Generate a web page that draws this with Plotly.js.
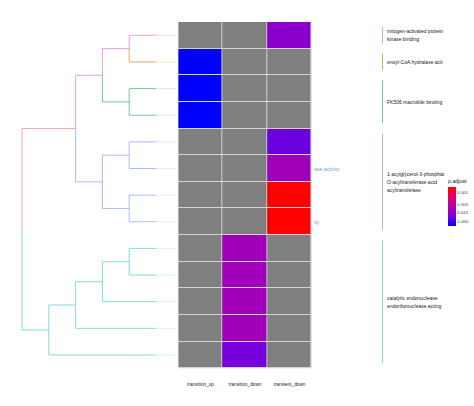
<!DOCTYPE html>
<html><head><meta charset="utf-8">
<script src="https://cdn.plot.ly/plotly-3.0.1.min.js"></script>
<style>html,body{margin:0;padding:0;background:#fff}</style>
</head><body><div id="chart" style="width:474px;height:406px"></div>
<script>
// ---- data ----
const columns = ["transition_up", "transition_down", "transient_down"];
const rowIds = [1, 2, 3, 4, 5, 6, 7, 8, 9, 10, 11, 12, 13];
const pTransitionUp   = [null, 0.098, 0.098, 0.098, null, null, null, null, null, null, null, null, null];
const pTransitionDown = [null, null, null, null, null, null, null, null, 0.0102, 0.0102, 0.0102, 0.0102, 0.026];
const pTransientDown  = [0.0166, null, null, null, 0.030, 0.0102, 0.00045, 0.00045, null, null, null, null, null];

const leafGroups = ["c1", "c2", "c3", "c3", "c4", "c4", "c4", "c4", "c5", "c5", "c5", "c5", "c5"];
// merge children: positive = leaf (row id), negative = earlier merge (1-based)
const mergeLeft   = [1, 3, -1, 5, 7, -4, -3, 9, -8, -9, -10, -7];
const mergeRight  = [2, 4, -2, 6, 8, -5, -6, 10, 11, 12, 13, -11];
const mergeHeight = [1, 1, 2, 1, 1, 2, 3, 1, 2, 3, 4, 5];
const mergeGroups = ["c1", "c3", "c1", "c4", "c4", "c4", "c0", "c5", "c5", "c5", "c5", "c0"];
const groupColors = {c0: "#F2A9A9", c1: "#E89DE4", c2: "#D5AE5E", c3: "#74CB8D", c4: "#AABBF0", c5: "#86D9DC"};

const clusterRows = [[1], [2], [3, 4], [5, 6, 7, 8], [9, 10, 11, 12, 13]];
const clusterLabels = [
  "mitogen-activated protein<br>kinase binding",
  "enoyl-CoA hydratase acti",
  "FK506 macrolide binding",
  "1-acylglycerol-3-phosphat<br>O-acyltransferase acid<br>acyltransferase",
  "catalytic endonuclease<br>endoribonuclease acting"
];
const clusterGroups = ["c1", "c2", "c3", "c4", "c5"];
const hiddenTipRows = [6, 8];
const hiddenTipText = ["ase activity", "ity"];

const cbTickValues = [0.001, 0.005, 0.015, 0.050];
const cbTickText = ["0.001", "0.005", "0.015", "0.050"];

// ---- build ----
const tf = p => (p == null ? null : -Math.log10(p));
const pCols = [pTransitionUp, pTransitionDown, pTransientDown];
const zColor = rowIds.map((r, i) => pCols.map(c => tf(c[i])));
const zBase = rowIds.map(() => columns.map(() => 0));
const allZ = zColor.flat().filter(v => v != null);
const zmin = Math.min(...allZ), zmax = Math.max(...allZ);

const FONT = "Liberation Sans, Arial, Helvetica, sans-serif";
const traces = [];
traces.push({type: "heatmap", x: columns, y: rowIds, z: zBase, xaxis: "x", yaxis: "y",
  colorscale: [[0, "#7F7F7F"], [1, "#7F7F7F"]], showscale: false, xgap: 1, ygap: 1, hoverinfo: "skip"});
traces.push({type: "heatmap", x: columns, y: rowIds, z: zColor, xaxis: "x", yaxis: "y",
  zmin: zmin, zmax: zmax, xgap: 1, ygap: 1,
  colorscale: [[0, "#0000FF"], [0.25, "#7A00DC"], [0.5, "#B300AA"], [0.75, "#E2006C"], [1, "#FF0000"]],
  colorbar: {
    x: 448 / 474, xanchor: "left", y: 1 - 226 / 406, yanchor: "bottom",
    thickness: 8, thicknessmode: "pixels", len: 50, lenmode: "pixels",
    xpad: 0, ypad: 0, outlinewidth: 0, ticks: "", ticklen: 0,
    tickvals: cbTickValues.map(tf), ticktext: cbTickText,
    tickfont: {family: FONT, size: 4.3, color: "#333"},
    title: {text: "p.adjust", side: "top", font: {family: FONT, size: 5.3, color: "#111"}}
  }});

// dendrogram
const nodeY = {}, nodeH = {}, nodeG = {};
rowIds.forEach((r, i) => { nodeY["L" + r] = r; nodeH["L" + r] = 0; nodeG["L" + r] = leafGroups[i]; });
const key = c => (c > 0 ? "L" + c : "M" + (-c));
const segs = {};
const addSeg = (g, xs, ys) => { (segs[g] = segs[g] || {x: [], y: []}); segs[g].x.push(...xs, null); segs[g].y.push(...ys, null); };
mergeHeight.forEach((h, k) => {
  const a = key(mergeLeft[k]), b = key(mergeRight[k]);
  const y = (nodeY[a] + nodeY[b]) / 2;
  const kk = "M" + (k + 1);
  nodeY[kk] = y; nodeH[kk] = h; nodeG[kk] = mergeGroups[k];
  [a, b].forEach(c => {
    addSeg(nodeG[c], [nodeH[c], h, h], [nodeY[c], nodeY[c], y]);
  });
});
Object.keys(segs).forEach(g => {
  traces.push({type: "scatter", mode: "lines", x: segs[g].x, y: segs[g].y, xaxis: "x2", yaxis: "y",
    line: {color: groupColors[g], width: 1}, hoverinfo: "skip", showlegend: false});
});
// faint leaf extensions
leafGroups.forEach((g, i) => {
  traces.push({type: "scatter", mode: "lines", x: [0, -0.78], y: [rowIds[i], rowIds[i]], xaxis: "x2", yaxis: "y",
    line: {color: groupColors[g], width: 1}, opacity: 0.3, hoverinfo: "skip", showlegend: false});
});

const annotations = [];
const shapes = [{type: "rect", xref: "x domain", yref: "y domain", x0: 0, x1: 1, y0: 0, y1: 1,
  fillcolor: "#D4D4D4", line: {width: 0}, layer: "below"}];
clusterRows.forEach((rows, i) => {
  const y0 = Math.min(...rows) - 0.5 + 0.19, y1 = Math.max(...rows) + 0.5 - 0.19;
  shapes.push({type: "line", xref: "paper", yref: "y", x0: 382.5 / 474, x1: 382.5 / 474, y0: y0, y1: y1,
    line: {color: groupColors[clusterGroups[i]], width: 1}});
  const lines = clusterLabels[i].split("<br>");
  const yc = rows.reduce((s, r) => s + r, 0) / rows.length;
  lines.forEach((t, j) => {
    annotations.push({xref: "paper", yref: "y", x: 384.5 / 474, y: yc, xanchor: "left", yanchor: "middle",
      yshift: -(j - (lines.length - 1) / 2) * 8, text: t, showarrow: false, align: "left",
      font: {family: FONT, size: 5, color: "#1a1a1a"}});
  });
});
hiddenTipRows.forEach((r, i) => {
  annotations.push({xref: "paper", yref: "y", x: 312 / 474, y: r, xanchor: "left", yanchor: "middle",
    text: hiddenTipText[i], showarrow: false, font: {family: FONT, size: 5.2, color: "#7C98EC"}});
});

const layout = {
  width: 474, height: 406, margin: {l: 0, r: 0, t: 0, b: 0},
  paper_bgcolor: "#fff", plot_bgcolor: "#fff", showlegend: false,
  xaxis: {domain: [178.3 / 474, 311.7 / 474], anchor: "y", type: "category", showgrid: false, zeroline: false,
    ticks: "", showline: false, ticklabelstandoff: 12, tickfont: {family: FONT, size: 4.7, color: "#222"}},
  yaxis: {domain: [1 - 368.3 / 406, 1 - 22 / 406], range: [13.5, 0.5], visible: false, anchor: "x"},
  xaxis2: {domain: [0, 178.3 / 474], anchor: "y", range: [156 / 26.8, -(178.3 - 156) / 26.8], visible: false},
  annotations: annotations, shapes: shapes
};
Plotly.newPlot("chart", traces, layout, {staticPlot: true, displayModeBar: false});
</script></body></html>
